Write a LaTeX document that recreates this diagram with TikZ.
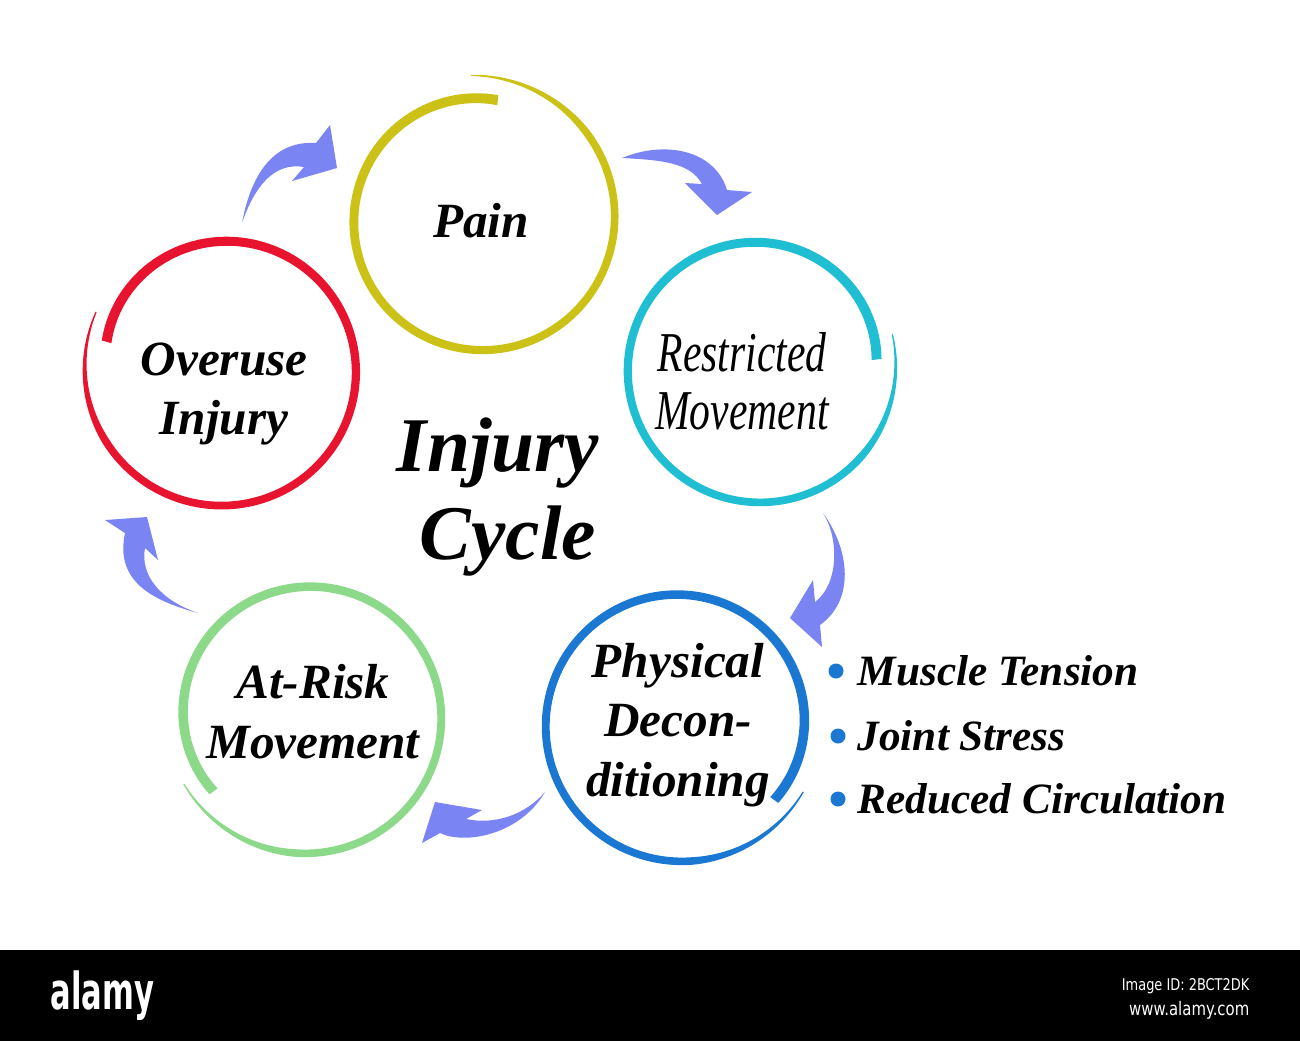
\documentclass[tikz,border=0pt]{standalone}
\usepackage{fontspec}
\usepackage{graphicx}
\setmainfont{Liberation Serif}
\setsansfont{DejaVu Sans}

\definecolor{painc}{HTML}{CCC116}
\definecolor{restc}{HTML}{20BED2}
\definecolor{overc}{HTML}{E8142F}
\definecolor{riskc}{HTML}{8CD98A}
\definecolor{physc}{HTML}{1A78D2}
\definecolor{swooshc}{HTML}{7B84F3}

\tikzset{
  stage/.style={font=\fontsize{14}{17}\selectfont\bfseries\itshape,align=center},
  item/.style={font=\fontsize{12.3}{15}\selectfont\bfseries\itshape,anchor=west,inner sep=0pt},
  bullet/.style={circle,fill=physc,inner sep=0pt,minimum size=0.15cm},
  swoosh/.style={fill=swooshc},
  footer/.style={text=white,inner sep=0pt},
  declare function={
    ringr(\t,\s,\m,\e)=\m+(\s-\m)*(1-\t)^4-(\m-\e)*\t^6;
    ringw(\t)=1.2+6.3*min(1,\t/0.15)+2.5*\t^2;
  }
}

% brush stroke ring: centre, colour, start angle, sweep, start/mid/end radius
\newcommand\brushring[7]{%
  \begin{scope}[shift={(#1)}]
    \fill[#2] plot[domain=0:1,samples=160,smooth] ({#3+(#4)*\x}:{ringr(\x,#5,#6,#7)+ringw(\x)/2})
      -- plot[domain=1:0,samples=160,smooth] ({#3+(#4)*\x}:{ringr(\x,#5,#6,#7)-ringw(\x)/2}) -- cycle;
  \end{scope}}

\begin{document}
\begin{tikzpicture}[x=0.01cm,y=-0.01cm]
\useasboundingbox (0,0) rectangle (1300,1041);
\fill[white] (0,0) rectangle (1300,1041);

% ring centres
\coordinate (painO) at (481,221);
\coordinate (restO) at (758,370);
\coordinate (physO) at (678,725);
\coordinate (riskO) at (309,717);
\coordinate (overO) at (223,371);

\brushring{painO}{painc}{-94}{372}{146}{128}{122}
\brushring{restO}{restc}{-15}{370}{139}{130}{119}
\brushring{physO}{physc}{28}{370}{142}{131}{122}
\brushring{riskO}{riskc}{152}{-370}{142}{131}{121}
\brushring{overO}{overc}{205}{-371}{140}{133}{120}

% stages
\node[stage] (pain) at (481,221) {Pain};
\node[stage,font=\fontsize{16}{16.5}\selectfont\itshape] (rest) at (742,381)
  {\scalebox{0.74}[1]{Restricted}\\\scalebox{0.74}[1]{Movement}};
\node[stage] (phys) at (678,725) {Physical\\Decon-\\ditioning};
\node[stage] (risk) at (313,712) {At-Risk\\Movement};
\node[stage] (over) at (224,394) {Overuse\\Injury};
\node[stage,font=\fontsize{22}{25}\selectfont\bfseries\itshape] (title) at (498,497)
  {Injury\\\hspace*{0.2cm}Cycle};

% arrows
\fill[swoosh] (242,223) .. controls (250,180) and (270,140) .. (316,143) -- (330,125) -- (337,168)
  -- (292,181) -- (304,167) .. controls (275,162) and (255,185) .. (242,223) -- cycle;
\fill[swoosh] (622,158) .. controls (665,140) and (715,150) .. (727,190) -- (752,192) -- (717,215)
  -- (685,183) -- (702,184) .. controls (690,162) and (660,160) .. (622,158) -- cycle;
\fill[swoosh] (823,513) .. controls (850,550) and (855,600) .. (820,625) -- (822,647) -- (790,618)
  -- (813,580) -- (815,602) .. controls (838,585) and (840,540) .. (823,513) -- cycle;
\fill[swoosh] (545,792) .. controls (525,815) and (495,825) .. (466,819) -- (482,810) -- (435,802)
  -- (422,843) -- (440,833) .. controls (465,845) and (520,835) .. (545,792) -- cycle;
\fill[swoosh] (198,613) .. controls (150,600) and (115,580) .. (125,533) -- (105,520) -- (147,517)
  -- (158,560) -- (145,548) .. controls (140,575) and (160,600) .. (198,613) -- cycle;

% effects
\node[bullet] (b1) at (836,671) {};
\node[bullet] (b2) at (838,736) {};
\node[bullet] (b3) at (838,799) {};
\node[item] (t1) at (857,671) {Muscle Tension};
\node[item] (t2) at (857,736) {Joint Stress};
\node[item] (t3) at (857,799) {Reduced Circulation};

% footer
\fill[black] (0,950) rectangle (1300,1041);
\node[footer,font=\sffamily\bfseries\fontsize{14.5}{15}\selectfont,anchor=west] (brand) at (50,996)
  {\scalebox{0.6}[1]{alamy}};
\node[footer,font=\sffamily\fontsize{4.6}{6}\selectfont,anchor=east] (imgid) at (1250,986)
  {\scalebox{0.8}[1]{Image ID: 2BCT2DK}};
\node[footer,font=\sffamily\fontsize{5.3}{6}\selectfont,anchor=east] (site) at (1250,1010)
  {\scalebox{0.8}[1]{www.alamy.com}};
\end{tikzpicture}
\end{document}
